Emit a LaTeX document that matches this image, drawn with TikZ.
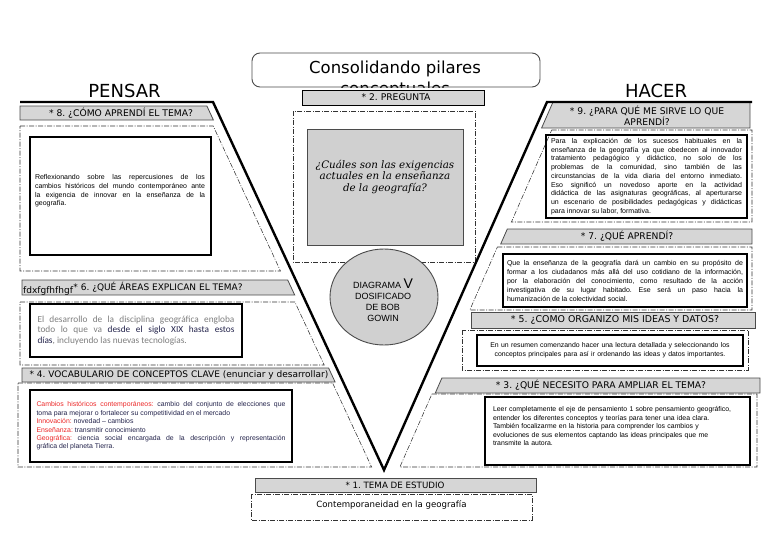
\documentclass[tikz,border=0pt]{standalone}
\usepackage{fontspec}
\setmainfont{DejaVu Sans}
\newfontfamily\arialf{Liberation Sans}
\newfontfamily\serifq{DejaVu Serif}
\newfontfamily\calibf{Carlito}
\usetikzlibrary{shapes.geometric}
\definecolor{cBan}{RGB}{214,214,214}
\definecolor{cBox}{RGB}{208,208,208}
\definecolor{cEdge}{RGB}{75,75,75}
\definecolor{cTerm}{RGB}{235,40,40}
\definecolor{cNavy}{RGB}{35,35,75}
\definecolor{cSoft}{RGB}{125,125,125}
\frenchspacing

\begin{document}
\begin{tikzpicture}[x=1pt, y=-1pt,
          vline/.style={line width=2.4pt, line join=miter},
          zone/.style={draw=black!80, line width=0.55pt,
                       dash pattern=on 5pt off 1.5pt on 1pt off 1.5pt},
          banner/.style={draw=cEdge, fill=cBan, line width=0.8pt},
          btxt/.style={font=\fontsize{9.2}{10.5}\selectfont, inner sep=0pt, align=center},
          box/.style={draw, line width=1.6pt, inner sep=0pt},
          ptxt/.style={font=\arialf\fontsize{7}{8.7}\selectfont, inner sep=0pt},
          hd/.style={font=\fontsize{18}{20}\selectfont, anchor=base, inner sep=0pt}]
        \useasboundingbox (0,0) rectangle (768,543);

        % titulo
        \begin{scope}
          \clip[rounded corners=8pt] (252,53) rectangle (540,87);
          \node[font=\fontsize{16.5}{18}\selectfont, anchor=base, inner sep=0pt] (ttl) at (395,73.5) {Consolidando pilares};
          \node[font=\fontsize{16.5}{18}\selectfont, anchor=base, inner sep=0pt] (ttl2) at (395,94) {conceptuales};
        \end{scope}
        \draw[draw=cEdge, line width=0.9pt, rounded corners=8pt] (252,53) rectangle (540,87);
        \node[hd] (pen) at (124.5,97) {PENSAR};
        \node[hd] (hac) at (656,97) {HACER};

        % zonas punteadas
        \draw[zone] (20,126) -- (213.2,126) -- (280.5,271) -- (20,271) -- cycle;
        \draw[zone] (20,302) -- (294.9,302) -- (324.2,365) -- (20,365) -- cycle;
        \draw[zone] (18,383) -- (332.6,383) -- (371.6,467) -- (18,467) -- cycle;
        \draw[zone] (293,111) rectangle (475,262);
        \draw[zone] (551.7,130) -- (752,130) -- (752,222) -- (511.4,222) -- cycle;
        \draw[zone] (497.4,247) -- (752,247) -- (752,310) -- (469.8,310) -- cycle;
        \draw[zone] (462,330) rectangle (748,370);
        \draw[zone] (431.9,394) -- (757,394) -- (757,467) -- (399.9,467) -- cycle;
        \draw[zone] (251,494) rectangle (532,520);

        % franjas
        \draw[banner] (20,106) -- (206.9,106) -- (213.4,120) -- (20,120) -- cycle;
        \draw[banner] (22,280) -- (287.7,280) -- (294.7,295) -- (22,295) -- cycle;
        \draw[banner] (22,368) -- (328.6,368) -- (335.1,382) -- (22,382) -- cycle;
        \draw[banner, draw=black] (302,90) rectangle (484,105);
        \draw[banner] (553,102) -- (750,102) -- (750,128) -- (541.6,128) -- cycle;
        \draw[banner] (507.3,229) -- (752,229) -- (752,244) -- (500.7,244) -- cycle;
        \draw[banner] (471,312) rectangle (755,328);
        \draw[banner] (441.9,378) -- (760,378) -- (760,393) -- (435.3,393) -- cycle;
        \draw[banner] (255,478) rectangle (536,492);

        \node[btxt] (h8) at (121,113) {* 8. ¿CÓMO APRENDÍ EL TEMA?};
        \node[btxt, font=\fontsize{9}{10.5}\selectfont] (h6) at (158,287.5) {* 6. ¿QUÉ ÁREAS EXPLICAN EL TEMA?};
        \node[font=\fontsize{9}{10}\selectfont, anchor=base west, inner sep=0pt] (fdx) at (23,293.5) {fdxfgfhfhgf};
        \node[btxt, font=\fontsize{9}{10.5}\selectfont] (h4) at (179,375) {* 4. VOCABULARIO DE CONCEPTOS CLAVE (enunciar y desarrollar)};
        \node[btxt] (h2) at (396,97.5) {* 2. PREGUNTA};
        \node[btxt] (h9) at (647,115.5) {* 9. ¿PARA QUÉ ME SIRVE LO QUE\\APRENDÍ?};
        \node[btxt] (h7) at (627,236.5) {* 7. ¿QUÉ APRENDÍ?};
        \node[btxt, font=\fontsize{9.4}{10}\selectfont] (h5) at (615,320) {* 5. ¿COMO ORGANIZO MIS IDEAS Y DATOS?};
        \node[btxt] (h3) at (601,385.5) {* 3. ¿QUÉ NECESITO PARA AMPLIAR EL TEMA?};
        \node[btxt, font=\fontsize{8.7}{10}\selectfont] (h1) at (395,485) {* 1. TEMA DE ESTUDIO};
        \node[font=\fontsize{8.6}{10}\selectfont, inner sep=0pt] (tema) at (391.5,505) {Contemporaneidad en la geografía};

        % cuadros
        \node[box, minimum width=181, minimum height=118] (b8) at (120.5,196) {};
        \node[ptxt, text width=170, align=justify] (x8) at (120,191) {Reflexionando sobre las repercusiones de los\linebreak
          cambios históricos del mundo contemporáneo ante\linebreak la exigencia de innovar en la enseñanza de la\linebreak geografía.};
        \node[box, minimum width=212, minimum height=53, text width=197, align=justify,
              font=\calibf\fontsize{9.3}{10.5}\selectfont, text=cSoft] (b6) at (136,330.5)
          {El desarrollo de la disciplina geográfica engloba\linebreak todo lo que va {\color{cNavy}desde el siglo XIX hasta estos\linebreak
          días}, incluyendo las nuevas tecnologías.};
        \node[box, minimum width=262, minimum height=72, text width=249, align=justify, ptxt,
              font=\arialf\fontsize{6.9}{8.4}\selectfont, text=cNavy] (b4) at (161,426)
          {{\color{cTerm}Cambios históricos contemporáneos:} cambio del conjunto de elecciones que\linebreak
          toma para mejorar o fortalecer su competitividad en el mercado\\
          {\color{cTerm}Innovación:} novedad – cambios\\
          {\color{cTerm}Enseñanza:} transmitir conocimiento\\
          {\color{cTerm}Geográfica:} ciencia social encargada de la descripción y representación\linebreak
          gráfica del planeta Tierra.};

        \node[draw=cEdge, fill=cBox, line width=0.9pt, minimum width=156, minimum height=116] (qb) at (385,187) {};
        \node[font=\serifq\itshape\fontsize{10.3}{11.7}\selectfont, align=center, inner sep=0pt] (qt) at (385,177)
          {¿Cuáles son las exigencias\\actuales en la enseñanza\\de la geografía?};
        \node[ellipse, draw=cEdge, fill=cBox, line width=0.9pt, minimum width=108, minimum height=96, inner sep=0pt] (gw) at (384,297) {};
        \node[font=\arialf\fontsize{9}{11}\selectfont, align=center, inner sep=0pt] (gt) at (383,300)
          {DIAGRAMA {\fontsize{14}{14}\selectfont V}\\DOSIFICADO\\DE BOB\\GOWIN};

        \node[box, minimum width=201, minimum height=83, text width=191, align=justify, ptxt,
              font=\arialf\fontsize{7}{8.75}\selectfont] (b9) at (646.5,176.5)
          {Para la explicación de los sucesos habituales en la\linebreak
          enseñanza de la geografía ya que obedecen al innovador\linebreak
          tratamiento pedagógico y didáctico, no solo de los\linebreak
          problemas de la comunidad, sino también de las\linebreak
          circunstancias de la vida diaria del entorno inmediato.\linebreak
          Eso significó un novedoso aporte en la actividad\linebreak
          didáctica de las asignaturas geográficas, al aperturarse\linebreak
          un escenario de posibilidades pedagógicas y didácticas\linebreak
          para innovar su labor, formativa.};
        \node[box, minimum width=244, minimum height=53, text width=236, align=justify, ptxt,
              font=\arialf\fontsize{7}{9}\selectfont] (b7) at (625,280.5)
          {Que la enseñanza de la geografía dará un cambio en su propósito de\linebreak
          formar a los ciudadanos más allá del uso cotidiano de la información,\linebreak
          por la elaboración del conocimiento, como resultado de la acción\linebreak
          investigativa de su lugar habitado. Ese será un paso hacia la\linebreak
          humanización de la colectividad social.};
        \node[box, minimum width=266, minimum height=31, text width=256, align=center, ptxt,
              font=\arialf\fontsize{6.9}{9}\selectfont] (b5) at (610,350.5)
          {En un resumen comenzando hacer una lectura detallada y seleccionando los\\
          conceptos principales para así ir ordenando las ideas y datos importantes.};
        \node[box, minimum width=265, minimum height=68] (b3) at (617.5,431) {};
        \node[ptxt, text width=250, align=left, font=\arialf\fontsize{6.9}{8.5}\selectfont] (x3) at (618,426)
          {Leer completamente el eje de pensamiento 1 sobre pensamiento geográfico,\\
          entender los diferentes conceptos y teorías para tener una idea clara.\\
          También focalizarme en la historia para comprender los cambios y\\
          evoluciones de sus elementos captando las ideas principales que me\\
          transmite la autora.};

        % la V
        \draw[vline] (20,102) -- (213,102) -- (384,470) -- (547,102) -- (752,102);
      \end{tikzpicture}
\end{document}
